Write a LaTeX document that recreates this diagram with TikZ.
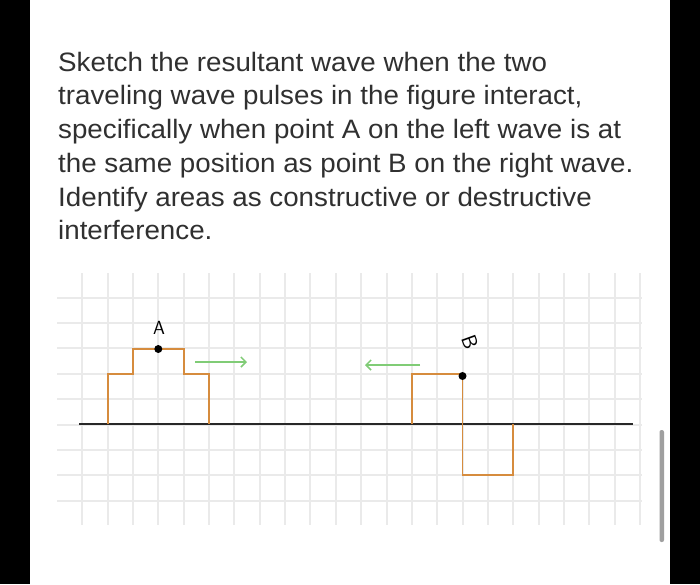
\documentclass[tikz,border=0pt]{standalone}
\usepackage{fontspec}
\setmainfont{Liberation Sans}
\usetikzlibrary{arrows.meta}
\definecolor{gridc}{RGB}{234,234,234}
\definecolor{pulsec}{RGB}{214,140,62}
\definecolor{arrc}{RGB}{128,204,118}
\definecolor{txtc}{RGB}{48,48,48}
\definecolor{axisc}{RGB}{40,40,40}
\newcommand{\qtext}[1]{\scalebox{1.043}[1]{#1}}
\tikzset{
  gridline/.style={draw=gridc,line width=2pt},
  pulse/.style={draw=pulsec,line width=1.8pt,line join=miter},
  axisline/.style={draw=axisc,line width=2pt},
  movearrow/.style={draw=arrc,line width=1.5pt,-{Straight Barb[length=5pt,width=10pt]}},
  qline/.style={anchor=base west,inner sep=0pt,text=txtc,font=\fontsize{26.6}{33.5}\selectfont},
  dot/.style={circle,fill=black,inner sep=0pt,minimum size=8pt},
  hand/.style={inner sep=0pt,font=\fontsize{19}{19}\selectfont\sffamily}
}
\begin{document}
\begin{tikzpicture}[x=1pt,y=-1pt]
\useasboundingbox (0,0) rectangle (700,584);
\fill[white] (0,0) rectangle (700,584);
\fill[black] (0,0) rectangle (30,584);
\fill[black] (670,0) rectangle (700,584);
% question text
\node[qline] (t1) at (58,71) {\qtext{Sketch the resultant wave when the two}};
\node[qline] (t2) at (58,104.5) {\qtext{traveling wave pulses in the figure interact,}};
\node[qline] (t3) at (58,138) {\qtext{specifically when point A on the left wave is at}};
\node[qline] (t4) at (58,172) {\qtext{the same position as point B on the right wave.}};
\node[qline] (t5) at (58,206) {\qtext{Identify areas as constructive or destructive}};
\node[qline] (t6) at (58,239.5) {\qtext{interference.}};
% grid
\foreach \i in {0,...,22} {
  \draw[gridline] ({int(82.8+25.35*\i)},273) -- ({int(82.8+25.35*\i)},525);
}
\foreach \j in {-3,...,5} {
  \draw[gridline] (57,{int(425-25.35*\j)}) -- (642,{int(425-25.35*\j)});
}
% axis
\coordinate (axL) at (79,424);
\coordinate (axR) at (633,424);
\draw[axisline] (axL) -- (axR);
% left pulse
\draw[pulse] (108,424) -- (108,374) -- (133,374) -- (133,349)
  -- (184,349) -- (184,374) -- (209,374) -- (209,424);
% right pulse
\draw[pulse] (412,424) -- (412,374) -- (462.5,374) -- (462.5,475)
  -- (513,475) -- (513,424);
% points
\node[dot] (A) at (158.3,349) {};
\node[dot] (B) at (462.5,376) {};
\node[hand] (la) at (159,328) {A};
\node[hand,rotate=-70,font=\fontsize{21}{21}\selectfont\sffamily] (lb) at (470,342) {B};
% motion arrows
\coordinate (a1s) at (195,362);
\coordinate (a1e) at (247,362);
\draw[movearrow] (a1s) -- (a1e);
\coordinate (a2s) at (420,365);
\coordinate (a2e) at (365,365);
\draw[movearrow] (a2s) -- (a2e);
% scrollbar
\fill[gray!75,rounded corners=2pt] (659.5,430) rectangle (664,542);
\end{tikzpicture}
\end{document}
